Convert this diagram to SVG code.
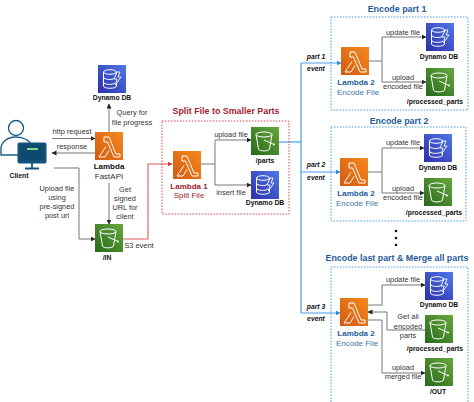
<svg xmlns="http://www.w3.org/2000/svg" width="474" height="402" viewBox="0 0 474 402">
<style>
text{font-family:"Liberation Sans",Arial,sans-serif;font-size:7.4px;fill:#333;text-anchor:middle}
.b{font-weight:bold;fill:#111;font-size:6.8px}
.l{font-weight:bold;fill:#1f5c99;font-size:8px}
.f{fill:#3f74ad;font-size:8px}
.t{font-weight:bold;fill:#1f5c99;font-size:8.9px}
.i{font-style:italic;font-weight:bold;font-size:6.8px;fill:#111}
.rt{font-weight:bold;fill:#a3222e;font-size:8.9px}
.rl{font-weight:bold;fill:#a3222e;font-size:8px}
.rf{fill:#a3222e;font-size:8px}
.k{font-weight:bold;fill:#111;font-size:8px}
.n{font-size:8px}
.g{fill:none;stroke:#777;stroke-width:1}
.bl{fill:none;stroke:#4a9be8;stroke-width:1.2}
.r{fill:none;stroke:#e85a5a;stroke-width:1.1}
.bx{fill:none;stroke:#4a9be8;stroke-width:1;stroke-dasharray:1.5 1.5}
.ic{fill:none;stroke:#fff;stroke-width:1}
</style>
<defs>
<linearGradient id="go" x1="0" y1="1" x2="1" y2="0"><stop offset="0" stop-color="#d4590f"/><stop offset="1" stop-color="#f58a1f"/></linearGradient>
<linearGradient id="gg" x1="0" y1="1" x2="1" y2="0"><stop offset="0" stop-color="#27691c"/><stop offset="1" stop-color="#66a83c"/></linearGradient>
<linearGradient id="gb" x1="0" y1="1" x2="1" y2="0"><stop offset="0" stop-color="#2e2fa8"/><stop offset="1" stop-color="#4f78ea"/></linearGradient>
<marker id="a" markerWidth="6" markerHeight="6" refX="4.5" refY="2.5" orient="auto" markerUnits="userSpaceOnUse"><path d="M0 0L5 2.500L0 5Z" fill="#222"/></marker>
<marker id="ab" markerWidth="6" markerHeight="6" refX="4.5" refY="2.5" orient="auto" markerUnits="userSpaceOnUse"><path d="M0 0L5 2.500L0 5Z" fill="#2f86e0"/></marker>
<marker id="ar" markerWidth="6" markerHeight="6" refX="4.5" refY="2.5" orient="auto" markerUnits="userSpaceOnUse"><path d="M0 0L5 2.500L0 5Z" fill="#d92b4b"/></marker>
<symbol id="lam" width="28" height="28" viewBox="0 0 28 28"><rect width="28" height="28" fill="url(#go)"/><path class="ic" d="M9 5H14L21 22H25V25H19L12.500 10H9ZM11 14.500L4 25H10L14 18.500" stroke-linejoin="round"/></symbol>
<symbol id="s3" width="28" height="28" viewBox="0 0 28 28"><rect width="28" height="28" fill="url(#gg)"/><ellipse class="ic" cx="13" cy="7.500" rx="8" ry="2.500"/><path class="ic" d="M5 7.500L7.500 22C8 24.500 18 24.500 18.500 22L21 7.500M13 13L23 17.500"/><circle cx="23" cy="17.500" r="1" fill="#fff"/></symbol>
<symbol id="db" width="28" height="28" viewBox="0 0 28 28"><rect width="28" height="28" fill="url(#gb)"/><ellipse class="ic" cx="12" cy="7" rx="6.500" ry="2.300"/><path class="ic" d="M5.500 7V21C5.500 24 18.500 24 18.500 21V18M5.500 12C5.500 15 15 15 16 13.500M5.500 17C5.500 20 15 20 17 18M18.500 7V9"/><path d="M19 7L16 14H19L17.500 20L23 12H20L22 7Z" fill="none" stroke="#fff" stroke-width="0.9"/></symbol>
</defs>
<rect width="474" height="402" fill="#fff"/>
<g id="connectors">
<path class="g" d="M109 132V104" marker-end="url(#a)"/>
<path class="g" d="M52 138.500H95" marker-end="url(#a)"/>
<path class="g" d="M95 153H52" marker-end="url(#a)"/>
<path class="g" d="M54 168H79V239H95" marker-end="url(#a)"/>
<path class="g" d="M109 183V224" marker-end="url(#a)"/>
<path class="r" d="M123 239H148V164H172" marker-end="url(#ar)"/>
<path class="g" d="M201 164H215M215 140V185"/>
<path class="g" d="M215 140H251" marker-end="url(#a)"/>
<path class="g" d="M215 185H251" marker-end="url(#a)"/>
<path class="bl" d="M279 142H301"/>
<path class="bl" d="M301 63V313"/>
<path class="bl" d="M301 63H341" marker-end="url(#ab)"/>
<path class="bl" d="M301 172H340" marker-end="url(#ab)"/>
<path class="bl" d="M301 313H340" marker-end="url(#ab)"/>
<path class="g" d="M369 61H382M382 37V82"/>
<path class="g" d="M382 37H426" marker-end="url(#a)"/>
<path class="g" d="M382 82H426" marker-end="url(#a)"/>
<path class="g" d="M368 172H382M382 148V193"/>
<path class="g" d="M382 148H424" marker-end="url(#a)"/>
<path class="g" d="M382 193H424" marker-end="url(#a)"/>
<path class="g" d="M368 305H382V285H425" marker-end="url(#a)"/>
<path class="g" d="M425 330H387V312H368" marker-end="url(#a)"/>
<path class="g" d="M368 320H382V373H425" marker-end="url(#a)"/>
</g>
<g id="client">
<circle cx="16" cy="128" r="7.500" fill="#fff" stroke="#1d5f8a" stroke-width="1.400"/>
<path d="M1 155V149C1 143 6 137 16 137C24 137 30 141 31 145V155Z" fill="#fff" stroke="#1d5f8a" stroke-width="1.400"/>
<rect x="18" y="143" width="28" height="20" rx="1" fill="#12527a" stroke="#12527a"/>
<rect x="20" y="145" width="24" height="15" fill="#0e4a6e"/>
<rect x="27" y="148" width="11" height="2" fill="#8fd08a"/>
<path d="M32 163V168M25 168.500H39" stroke="#12527a" stroke-width="1.800"/>
<text class="b" x="19" y="178">Client</text>
</g>
<g id="edge-labels">
<text x="72" y="134">http request</text>
<text x="72" y="149">response</text>
<text x="132" y="115">Query for</text>
<text x="132" y="125">file progress</text>
<text x="57" y="191">Upload file</text>
<text x="57" y="200">using</text>
<text x="57" y="209">pre-signed</text>
<text x="57" y="218">post url</text>
<text x="125" y="192">Get</text>
<text x="125" y="201">signed</text>
<text x="125" y="210">URL for</text>
<text x="125" y="219">client</text>
<text x="139" y="248">S3 event</text>
<text x="231" y="137">upload file</text>
<text x="231" y="195">insert file</text>
<text class="i" x="316" y="59">part 1</text>
<text class="i" x="316" y="71">event</text>
<text class="i" x="316" y="167">part 2</text>
<text class="i" x="316" y="180">event</text>
<text class="i" x="316" y="309">part 3</text>
<text class="i" x="316" y="321">event</text>
<text x="403" y="35">update file</text>
<text x="403" y="80">upload</text>
<text x="403" y="89">encoded file</text>
<text x="403" y="145">update file</text>
<text x="403" y="191">upload</text>
<text x="403" y="200">encoded file</text>
<text x="403" y="282">update file</text>
<text x="408" y="319">Get all</text>
<text x="408" y="329">encoded</text>
<text x="408" y="338">parts</text>
<text x="403" y="370">upload</text>
<text x="403" y="379">merged file</text>
</g>
<g id="dynamo-top"><use href="#db" x="98" y="65"/><text class="b" x="112" y="100">Dynamo DB</text></g>
<g id="lambda-fastapi"><use href="#lam" x="95" y="132"/><text class="k" x="109" y="169">Lambda</text><text class="n" x="109" y="179">FastAPI</text></g>
<g id="s3-in"><use href="#s3" x="95" y="224"/><text class="b" x="107" y="260">/IN</text></g>
<g id="split-group">
<rect x="162" y="121" width="127" height="93" fill="none" stroke="#e0455a" stroke-width="1" stroke-dasharray="1.500 1.500"/>
<text class="rt" x="226" y="114">Split File to Smaller Parts</text>
</g>
<g id="lambda-1"><use href="#lam" x="173" y="151"/><text class="rl" x="189" y="189">Lambda 1</text><text class="rf" x="189" y="198">Split File</text></g>
<g id="s3-parts"><use href="#s3" x="251" y="127"/><text class="b" x="265" y="163">/parts</text></g>
<g id="dynamo-split"><use href="#db" x="251" y="171"/><text class="b" x="265" y="205">Dynamo DB</text></g>
<g id="encode-1">
<rect class="bx" x="331" y="17" width="137" height="93"/>
<text class="t" x="397" y="12">Encode part 1</text>
<use href="#lam" x="341" y="47"/><text class="l" x="356" y="85">Lambda 2</text><text class="f" x="358" y="95">Encode File</text>
<use href="#db" x="426" y="23"/><text class="b" x="439" y="59">Dynamo DB</text>
<use href="#s3" x="426" y="68"/><text class="b" x="435" y="104">/processed_parts</text>
</g>
<g id="encode-2">
<rect class="bx" x="331" y="127" width="135" height="94"/>
<text class="t" x="399" y="124">Encode part 2</text>
<use href="#lam" x="340" y="158"/><text class="l" x="356" y="196">Lambda 2</text><text class="f" x="357" y="206">Encode File</text>
<use href="#db" x="424" y="134"/><text class="b" x="438" y="170">Dynamo DB</text>
<use href="#s3" x="424" y="178"/><text class="b" x="434" y="215">/processed_parts</text>
</g>
<g id="dots"><circle cx="396" cy="231" r="1.300" fill="#111"/><circle cx="396" cy="238" r="1.300" fill="#111"/><circle cx="396" cy="245" r="1.300" fill="#111"/></g>
<g id="encode-3">
<path class="bx" d="M331 402V267H468V402"/>
<text class="t" x="397" y="261">Encode last part &amp; Merge all parts</text>
<use href="#lam" x="340" y="298"/><text class="l" x="356" y="336">Lambda 2</text><text class="f" x="357" y="346">Encode File</text>
<use href="#db" x="425" y="272"/><text class="b" x="439" y="307">Dynamo DB</text>
<use href="#s3" x="425" y="315"/><text class="b" x="435" y="351">/processed_parts</text>
<use href="#s3" x="425" y="358"/><text class="b" x="438" y="394">/OUT</text>
</g>
</svg>
